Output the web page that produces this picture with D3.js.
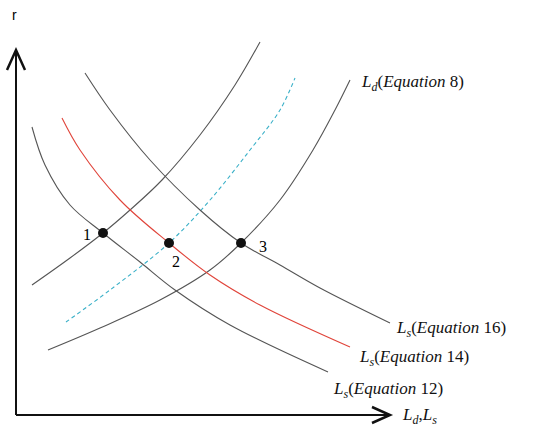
<!DOCTYPE html>
<html><head><meta charset="utf-8">
<script src="https://cdn.jsdelivr.net/npm/d3@7"></script>
<style>body{margin:0;background:#fff}</style>
</head><body><div id="chart"></div>
<script>
// curve data: [x, y] in chart units (origin at the axes corner)
var supplyA = [[16,130],[54,157],[87,182],[114,205],[146,235],[184,280],[219,330],[244,373]]
var supplyB = [[32,65],[84,87],[144,115],[194,145],[225,172],[264,215],[297,265],[319,305],[334,335]]
var dashed  = [[50,93],[94,125],[153,172],[194,215],[234,265],[264,305],[279,337]]
var eq12 = [[16,288],[29,250],[54,210],[87,182],[124,153],[159,125],[214,90],[312,43]]
var eq14 = [[46,297],[64,265],[104,215],[153,172],[194,140],[244,110],[334,68]]
var eq16 = [[69,342],[94,305],[134,255],[184,205],[225,172],[264,150],[304,127],[374,92]]
var points = [[87,182,"1"],[153,172,"2"],[225,172,"3"]]

var width = 550, height = 434
var svg = d3.select("#chart").append("svg").attr("width", width).attr("height", height)

var x = d3.scaleLinear().domain([0,374]).range([16,390])
var y = d3.scaleLinear().domain([0,365]).range([415,50])

var line = d3.line().x(d => x(d[0])).y(d => y(d[1])).curve(d3.curveCatmullRom)

function curve(data, color, dash) {
  svg.append("path").datum(data).attr("d", line)
    .attr("fill", "none").attr("stroke", color).attr("stroke-width", 1.1)
    .attr("stroke-dasharray", dash || null)
}
curve(supplyA, "#555")
curve(supplyB, "#555")
curve(dashed, "#3ab0c8", "4,3")
curve(eq12, "#555")
curve(eq14, "#e0443a")
curve(eq16, "#555")

svg.selectAll("circle").data(points).enter().append("circle")
  .attr("cx", d => x(d[0])).attr("cy", d => y(d[1])).attr("r", 5).attr("fill", "#111")
var ptOff = {"1": [-20, 7], "2": [3, 24], "3": [18, 9]}
svg.selectAll("text.pt").data(points).enter().append("text").attr("class", "pt")
  .attr("x", d => x(d[0]) + ptOff[d[2]][0]).attr("y", d => y(d[1]) + ptOff[d[2]][1])
  .attr("font-family", "Liberation Serif").attr("font-size", 16).text(d => d[2])

// axes
var ax = svg.append("g").attr("stroke", "#111").attr("stroke-width", 2).attr("fill", "none")
ax.append("path").attr("d", "M" + x(0) + "," + y(0) + "V" + y(365))
ax.append("path").attr("stroke-width", 2.5).attr("d", "M" + (x(0) - 9) + "," + (y(365) + 20) + "L" + x(0) + "," + y(365) + "L" + (x(0) + 9) + "," + (y(365) + 20))
ax.append("path").attr("d", "M" + x(0) + "," + y(0) + "H" + x(374))
ax.append("path").attr("stroke-width", 2.5).attr("d", "M" + (x(374) - 18) + "," + (y(0) - 8) + "L" + x(374) + "," + y(0) + "L" + (x(374) - 18) + "," + (y(0) + 8))

svg.append("text").attr("x", 12).attr("y", 20).attr("font-family", "Liberation Sans").attr("font-size", 14).text("r")

function label(px, py, sub, eq) {
  var t = svg.append("text").attr("x", px).attr("y", py)
    .attr("font-family", "Liberation Serif").attr("font-size", 17).attr("fill", "#111")
  t.append("tspan").attr("font-style", "italic").text("L")
  t.append("tspan").attr("font-style", "italic").attr("font-size", 12).attr("dy", 4).text(sub)
  if (eq) {
    t.append("tspan").attr("dy", -4).text("(")
    t.append("tspan").attr("font-style", "italic").text("Equation ")
    t.append("tspan").text(eq + ")")
  }
  return t
}
label(362, 87, "d", "8")
label(397, 333, "s", "16")
label(360, 362, "s", "14")
label(334, 394, "s", "12")
var t = label(403, 420, "d")
t.append("tspan").attr("dy", -4).text(",")
t.append("tspan").attr("font-style", "italic").text("L")
t.append("tspan").attr("font-style", "italic").attr("font-size", 12).attr("dy", 4).text("s")
</script></body></html>
